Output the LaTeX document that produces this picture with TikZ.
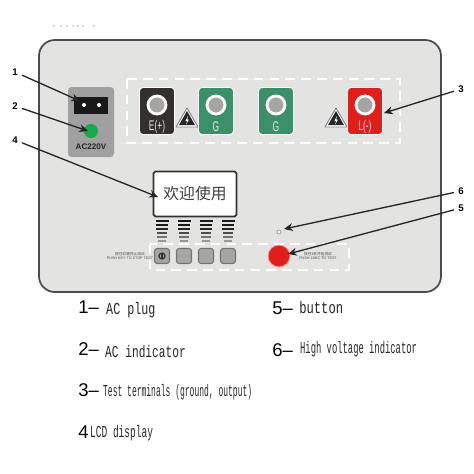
\documentclass[tikz,border=0pt]{standalone}
\usepackage{fontspec}
\usepackage{tikz}
\usetikzlibrary{arrows.meta}
\setmainfont{Liberation Sans}
\setsansfont{Liberation Sans}
\setmonofont{Liberation Mono}
\newfontfamily\cjk{Noto Sans CJK SC}
\definecolor{panelGray}{RGB}{227, 227, 225}
\definecolor{plugGray}{RGB}{160, 160, 160}
\definecolor{termBlack}{RGB}{50, 47, 45}
\definecolor{termGreen}{RGB}{58, 145, 105}
\definecolor{termRed}{RGB}{225, 30, 25}
\definecolor{ledGreen}{RGB}{20, 170, 70}
\definecolor{keyGray}{RGB}{165, 165, 163}
\tikzset{
  callout/.style={font=\sffamily\bfseries\fontsize{5.5}{6}\selectfont, inner sep=0pt, outer sep=2.5pt},
  pointer/.style={draw=black!85, line width=0.75pt, -{Stealth[length=5pt,width=4.5pt]}},
  dashbox/.style={draw=white, line width=0.8pt, dash pattern=on 5.5pt off 3.5pt},
  terminal/.style={draw=white, line width=0.5pt, rounded corners=2pt, minimum width=0.7cm, minimum height=0.94cm, inner sep=0pt},
  jack/.style={circle, draw=white, line width=1.6pt, fill=keyGray, minimum size=0.36cm, inner sep=0pt},
  termtext/.style={text=white!90!black, font=\sffamily\fontsize{8}{9}\selectfont, xscale=0.6, inner sep=0pt},
  panelkey/.style={draw=black!55, line width=0.6pt, fill=keyGray, rounded corners=1.5pt, minimum size=0.3cm, inner sep=0pt},
  legnum/.style={anchor=west, font=\fontsize{10.5}{12}\selectfont, inner sep=0pt},
  legtext/.style={anchor=west, font=\ttfamily\fontsize{9.5}{11}\selectfont, inner sep=0pt, text=black!85},
  tinynote/.style={font=\fontsize{2.1}{2.7}\selectfont, align=center, text=black!70, inner sep=0pt}
}
\newcommand{\hazardsign}[1]{
  \draw[draw=black!50, fill=white, line width=0.5pt, line join=round] (#1)++(-11,9) -- ++(22,0) -- ++(-11,-19) -- cycle;
  \fill[black!85] (#1)++(-8,7) -- ++(16,0) -- ++(-8,-14) -- cycle;
  \fill[white] (#1)++(1,-2) -- ++(-2.6,5) -- ++(1.8,0) -- ++(-1.2,3.5) -- ++(3,-5) -- ++(-1.8,0) -- cycle;
}
\begin{document}
\begin{tikzpicture}[x=0.02cm, y=-0.02cm]
  \useasboundingbox (0,0) rectangle (474,474);
  \fill[white] (0,0) rectangle (474,474);

  \foreach \x in {54,61,67,73,78,83,94} {
    \fill[black!30] (\x,26) circle (0.8);
  }

  \draw[fill=panelGray, draw=black!70, line width=1pt, rounded corners=9pt] (39,40) rectangle (441,292);

  \fill[plugGray, rounded corners=2pt] (68,87) rectangle (114,157);
  \node[fill=black!90, minimum width=0.68cm, minimum height=0.34cm, inner sep=0pt] (plug) at (91,105) {};
  \fill[white] (84,105) circle (2);
  \fill[white] (99,105) circle (2);
  \node[circle, fill=ledGreen, minimum size=0.28cm, inner sep=0pt] (aclamp) at (91,131) {};
  \node[font=\sffamily\bfseries\fontsize{4.6}{5}\selectfont, text=black!85, inner sep=0pt] (acvolt) at (91,147) {AC220V};

  \draw[dashbox] (127,79) rectangle (400,143);
  \node[terminal, fill=termBlack] (termE) at (157,111) {};
  \node[terminal, fill=termGreen] (termGa) at (216,111) {};
  \node[terminal, fill=termGreen] (termGb) at (276,111) {};
  \node[terminal, fill=termRed] (termL) at (365,111) {};
  \node[jack] (jackE) at (157,105) {};
  \node[jack] (jackGa) at (216,105) {};
  \node[jack] (jackGb) at (276,105) {};
  \node[jack] (jackL) at (365,105) {};
  \node[termtext] (textE) at (157,127) {E(+)};
  \node[termtext] (textGa) at (216,127) {G};
  \node[termtext] (textGb) at (276,127) {G};
  \node[termtext] (textL) at (365,127) {L(-)};
  \hazardsign{187,118}
  \hazardsign{336,118}

  \node[draw=black!80, line width=1pt, fill=white, rounded corners=1pt, minimum width=1.66cm, minimum height=0.9cm, inner sep=0pt, font=\cjk\fontsize{9}{10}\selectfont, text=black!75] (lcd) at (195,194) {欢迎使用};

  \foreach \x in {162,184,206,228} {
    \foreach \y/\w/\g in {221/6.5/90,225/6.2/90,229/5.8/85,233/5.2/70,237/4.6/55,241/4/40} {
      \fill[black!\g] (\x-\w,\y-1.4) rectangle (\x+\w,\y+1.4);
    }
  }

  \draw[dashbox] (150,244) rectangle (349,270);
  \node[panelkey] (keya) at (162,256) {};
  \node[panelkey] (keyb) at (184,256) {};
  \node[panelkey] (keyc) at (206,256) {};
  \node[panelkey] (keyd) at (228,256) {};
  \draw[black!80, line width=0.7pt] (keya) circle (3);
  \draw[black!80, line width=0.7pt] (162,253.5) -- (162,258.5);
  \node[tinynote] (stopnote) at (130,256) {{\cjk 按住红键停止测试}\\PUSH KEY TO STOP TEST};
  \node[circle, fill=termRed, draw=termRed!40, line width=0.5pt, minimum size=0.44cm, inner sep=0pt] (button) at (279,256) {};
  \node[tinynote] (testnote) at (318,256) {{\cjk 按住1秒开始测试}\\PUSH 1SEC TO TEST};
  \node[circle, draw=black!40, fill=white, line width=0.4pt, minimum size=0.08cm, inner sep=0pt] (hvlamp) at (279,232) {};

  \node[callout] (numa) at (15,72) {1};
  \node[callout] (numb) at (15,106) {2};
  \node[callout] (numc) at (461,89) {3};
  \node[callout] (numd) at (15,140) {4};
  \node[callout] (nume) at (461,208) {5};
  \node[callout] (numf) at (461,191) {6};

  \coordinate (plugtip) at (80,101);
  \coordinate (acltip) at (88,131);
  \coordinate (lcdtip) at (158,197);
  \coordinate (buttontip) at (288,254);
  \coordinate (lamptip) at (284,229);
  \coordinate (termtip) at (384,113);
  \draw[pointer] (numa) -- (plugtip);
  \draw[pointer] (numb) -- (acltip);
  \draw[pointer] (numc) -- (termtip);
  \draw[pointer] (numd) -- (lcdtip);
  \draw[pointer] (nume) -- (buttontip);
  \draw[pointer] (numf) -- (lamptip);

  \node[legnum] (lega) at (78,307) {1--};
  \node[legtext, xscale=0.7] (legatext) at (106,310) {AC plug};
  \node[legnum] (legb) at (78,349) {2--};
  \node[legtext, xscale=0.67] (legbtext) at (105,352) {AC indicator};
  \node[legnum] (legc) at (78,390) {3--};
  \node[legtext, xscale=0.48] (legctext) at (103,392) {Test terminals (ground, output)};
  \node[legnum] (legd) at (78,432) {4};
  \node[legtext, xscale=0.57] (legdtext) at (90,433) {LCD display};
  \node[legnum] (lege) at (272,308) {5--};
  \node[legtext, xscale=0.73] (legetext) at (299,308) {button};
  \node[legnum] (legf) at (272,350) {6--};
  \node[legtext, xscale=0.53] (legftext) at (300,349) {High voltage indicator};
\end{tikzpicture}
\end{document}
